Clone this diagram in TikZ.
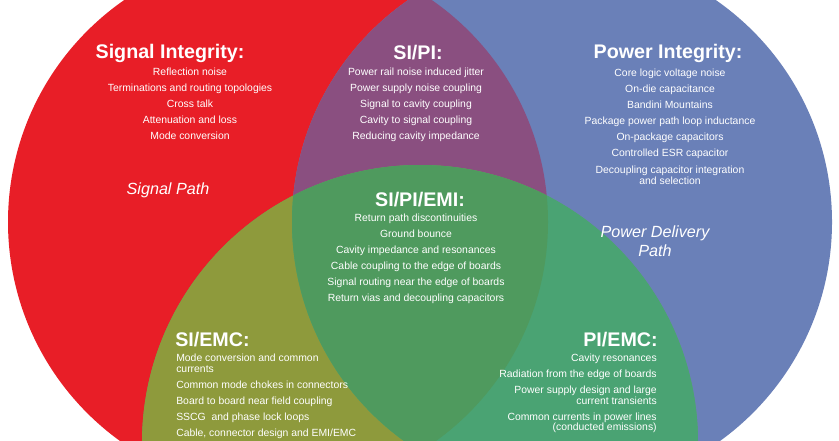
\documentclass[tikz,border=0pt]{standalone}
\usepackage{fontspec}
\setmainfont{Liberation Sans}
\begin{document}
\begin{tikzpicture}[x=0.025cm,y=-0.025cm,
  hd/.style={text=white,font=\bfseries\fontsize{14}{15}\selectfont,inner sep=0pt},
  it/.style={text=white,font=\fontsize{7.4}{11.4}\selectfont,inner sep=0pt},
  lb/.style={text=white,font=\itshape\fontsize{11.5}{13.5}\selectfont,inner sep=0pt}]
\definecolor{rr}{HTML}{E81E27}\definecolor{bb}{HTML}{6A80B8}\definecolor{gg}{HTML}{55AE5C}
\definecolor{rb}{HTML}{8A4F80}\definecolor{rg}{HTML}{8E9A3C}\definecolor{bg}{HTML}{4AA373}\definecolor{rbg}{HTML}{4F9A5E}
\useasboundingbox (0,0) rectangle (839,440);
\clip (0,0) rectangle (839,440);
\def\R{(278,222) circle (270)}\def\B{(562,222) circle (270)}\def\G{(420,443) circle (278)}
\fill[white] (0,0) rectangle (839,440);
\fill[rr] \R; \fill[bb] \B; \fill[gg] \G;
\begin{scope}\clip \R; \fill[rb] \B; \fill[rg] \G; \end{scope}
\begin{scope}\clip \B; \fill[bg] \G; \end{scope}
\begin{scope}\clip \R; \clip \B; \fill[rbg] \G; \end{scope}
\node[hd] (si) at (170,53) {Signal Integrity:};
\node[it,align=center,anchor=north] (sil) at (190,68) {Reflection noise\\Terminations and routing topologies\\Cross talk\\Attenuation and loss\\Mode conversion};
\node[lb] (sp) at (168,190) {Signal Path};
\node[hd] (sipi) at (418,53) {SI/PI:};
\node[it,align=center,anchor=north] (sipil) at (416,68) {Power rail noise induced jitter\\Power supply noise coupling\\Signal to cavity coupling\\Cavity to signal coupling\\Reducing cavity impedance};
\node[hd] (pi) at (668,53) {Power Integrity:};
\node[it,align=center,anchor=north] (pil) at (670,69) {Core logic voltage noise\\On-die capacitance\\Bandini Mountains\\Package power path loop inductance\\On-package capacitors\\Controlled ESR capacitor\\Decoupling capacitor integration\\[-3pt]and selection};
\node[lb,align=center] (pd) at (655,241) {Power Delivery\\Path};
\node[hd] (emi) at (420,200) {SI/PI/EMI:};
\node[it,align=center,anchor=north] (emil) at (416,214) {Return path discontinuities\\Ground bounce\\Cavity impedance and resonances\\Cable coupling to the edge of boards\\Signal routing near the edge of boards\\Return vias and decoupling capacitors};
\node[hd,anchor=west] (siemc) at (175,340) {SI/EMC:};
\node[it,align=left,anchor=north west] (siemcl) at (176,354) {Mode conversion and common\\[-4pt]currents\\Common mode chokes in connectors\\Board to board near field coupling\\SSCG\ \ and phase lock loops\\Cable, connector design and EMI/EMC};
\node[hd,anchor=east] (piemc) at (658,340) {PI/EMC:};
\node[it,align=right,anchor=north east] (piemcl) at (657,354) {Cavity resonances\\Radiation from the edge of boards\\Power supply design and large\\[-4pt]current transients\\Common currents in power lines\\[-4pt](conducted emissions)};
\end{tikzpicture}
\end{document}
